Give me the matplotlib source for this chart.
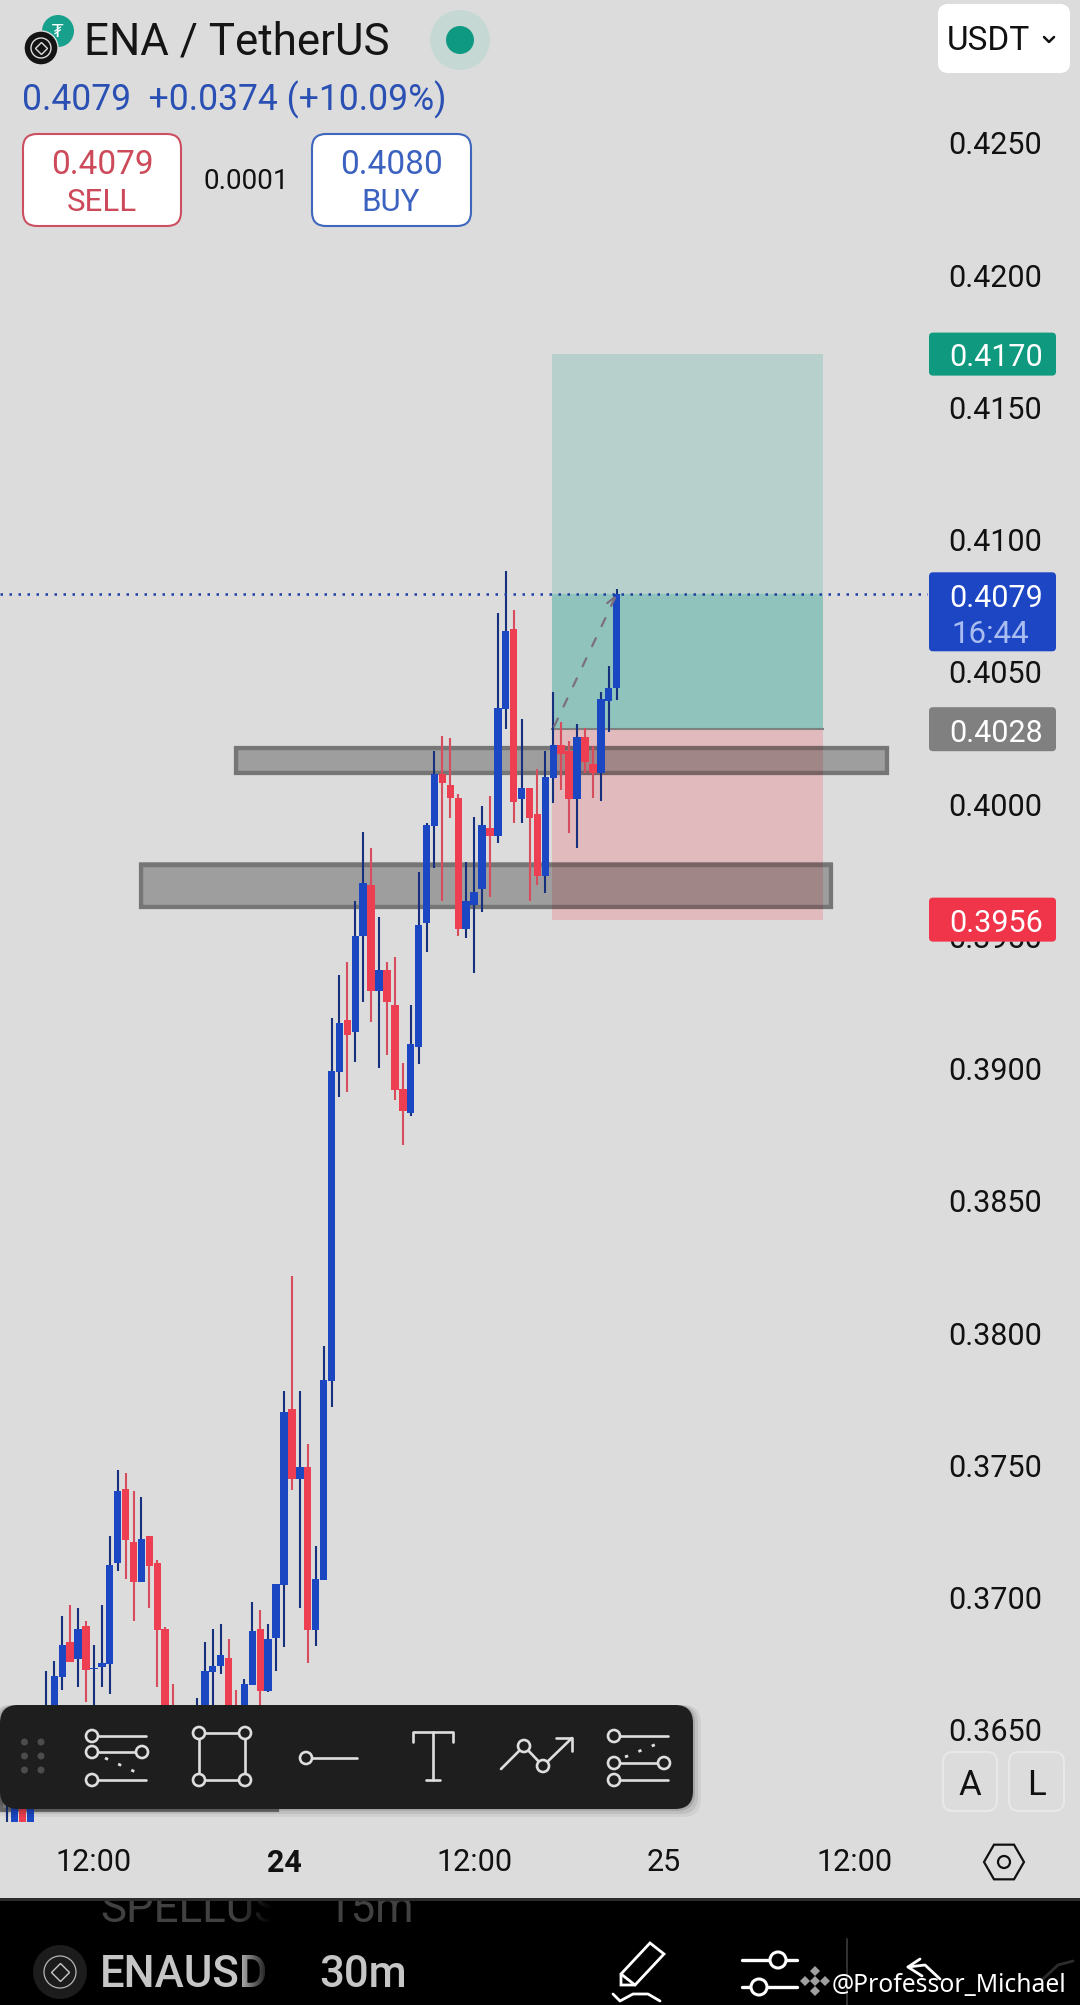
import numpy as np
import matplotlib
matplotlib.use('Agg')
import matplotlib.pyplot as plt
from matplotlib.patches import Rectangle, FancyBboxPatch, Circle, RegularPolygon, Polygon

plt.rcParams['font.family'] = ['Roboto', 'DejaVu Sans']

# 30m candles, bar 0 is the "24" tick
bars = np.arange(-35, 43)
opens = [.3625, .3612, .3632, .3612, .3635, .3635, .3640, .36698, .36828, .36765, .36891, .36726, .36733,
         .36746, .37126, .37407, .37206, .37057, .37231, .37128, .36878, .3650, .3640, .3640, .3640, .3640,
         .36717, .36737, .36768, .3650, .3645, .36666, .36878, .36645, .36844, .37046, .3771, .37445, .37489,
         .36876, .37065, .37817, .38985, .3918, .39136, .39497, .39691, .39289, .3937, .39237, .3892, .38829,
         .39078, .39549, .39914, .40109, .40068, .4002, .39523, .39614, .39675, .39908, .39876, .40358, .40658,
         .40015, .40057, .39958, .39725, .40096, .40219, .40198, .40015, .40249, .40147, .40116, .40387, .40437]
highs = [.3640, .3638, .3640, .3642, .3645, .36718, .36758, .36929, .36969, .36958, .36907, .36818, .36969,
         .37231, .37479, .37468, .37399, .37378, .37231, .37139, .36887, .3667, .3650, .3650, .36617, .3683,
         .36878, .36897, .3684, .36649, .36689, .36981, .36951, .36897, .37048, .37779, .38211, .37779, .37578,
         .37191, .37949, .39187, .39352, .39399, .39632, .3989, .3983, .3957, .39399, .39419, .39018, .39237,
         .39739, .39927, .40198, .40254, .40248, .40036, .39778, .39948, .3999, .40028, .40718, .40878, .4073,
         .40317, .40057, .40128, .40198, .40421, .40309, .40235, .40299, .40286, .40217, .40421, .40519, .40809]
lows = [.3610, .3610, .3610, .3610, .3630, .3630, .3635, .36647, .36752, .3666, .36601, .3640, .3666,
        .36632, .37099, .37067, .3691, .37057, .36958, .3666, .3640, .3635, .3630, .3630, .3630, .3635,
        .3645, .36708, .3640, .3640, .3640, .36666, .3640, .36639, .36721, .36811, .37405, .36958, .3675,
        .36815, .37065, .37718, .3889, .38909, .39021, .39247, .39172, .38999, .39049, .38879, .38709, .38819,
        .39014, .39438, .39757, .39631, .39946, .39498, .39492, .3936, .39589, .39647, .39851, .40282, .39927,
        .39927, .39631, .3969, .3966, .4000, .4005, .39886, .3983, .40116, .40019, .40009, .4027, .40391]
closes = [.3632, .3630, .3612, .3635, .3640, .3645, .36699, .36818, .36752, .36878, .36724, .36729, .36748,
          .3712, .37399, .37215, .37057, .37218, .37118, .36876, .3645, .3640, .3635, .3635, .3650, .36718,
          .36737, .3678, .3645, .3645, .3667, .36872, .36645, .3684, .37048, .377, .37445, .37489, .36876,
          .37067, .37821, .38987, .39169, .39124, .39497, .39698, .39289, .3937, .39247, .38917, .38838, .3909,
          .3954, .39917, .40109, .40075, .40018, .39523, .39631, .39666, .39917, .39876, .40359, .40651, .40005,
          .40057, .39946, .39725, .40098, .40219, .40185, .40015, .40249, .40156, .40113, .40396, .40437, .4079]

price_ticks = [.4250, .4200, .4150, .4100, .4050, .4000, .3950, .3900, .3850, .3800, .3750, .3700, .3650]
time_ticks = [-24, 0, 24, 48, 72]
time_labels = ['12:00', '24', '12:00', '25', '12:00']

last_price = .4079
target_price = .4170
entry_price = .4028
stop_price = .3956

# gray boxes drawn on the chart: low, high, first bar, last bar
zone_low = [.40107, .39600, .36186]
zone_high = [.40215, .39776, .3640]
zone_start = [-6.3, -18.3, -36]
zone_end = [76.4, 69.3, -0.6]
position_start = 33.85
position_end = 68.05

BG = '#dcdcdc'
BLUE = '#1c47c2'
RED = '#ee3f52'
BLUE_WICK = '#16307e'
RED_WICK = '#d84d5e'
ICON = '#dedede'
BAR = '#1e1e1e'

fig = plt.figure(figsize=(10.8, 20.06), dpi=100, facecolor=BG)
ax = fig.add_axes([0, (2006 - 1823) / 2006, 928 / 1080, 1823 / 2006], facecolor=BG)
ax.set_xlim(-284 / 7.92, (928 - 284) / 7.92)
ax.set_ylim(.4250 - 1680 / 26450, .4250 + 143 / 26450)
for s in ax.spines.values():
    s.set_visible(False)

# position tool
ax.add_patch(Rectangle((position_start, last_price), position_end - position_start, target_price - last_price,
                       fc='#089981', alpha=.17, lw=0, zorder=1))
ax.add_patch(Rectangle((position_start, entry_price), position_end - position_start, last_price - entry_price,
                       fc='#089981', alpha=.36, lw=0, zorder=1))
ax.add_patch(Rectangle((position_start, stop_price), position_end - position_start, entry_price - stop_price,
                       fc='#f23645', alpha=.2, lw=0, zorder=1))
ax.plot([position_start, position_end], [entry_price, entry_price], color='#808080', lw=1.5, zorder=1.5)

for lo, hi, x0, x1 in zip(zone_low, zone_high, zone_start, zone_end):
    ax.add_patch(Rectangle((x0, lo), x1 - x0, hi - lo, fc='black', alpha=.28, lw=0, zorder=2))
    ax.add_patch(Rectangle((x0 + .28, lo + .00008), x1 - x0 - .56, hi - lo - .00016, fc='none',
                           ec=(0, 0, 0, .25), lw=3.2, zorder=2))

# candles
for b, o, h, l, c in zip(bars, opens, highs, lows, closes):
    up = c >= o
    ax.vlines(b, l, h, color=BLUE_WICK if up else RED_WICK, lw=1.5, zorder=3)
    ax.bar(b, max(abs(c - o), .00005), bottom=min(o, c), width=.94, color=BLUE if up else RED, lw=0, zorder=4)

ax.axhline(last_price, color='#1f3fa0', lw=1.8, ls=(0, (1, 2.6)), zorder=5)
ax.annotate('', xy=(bars[-1], last_price), xytext=(34.1, .4029), zorder=6,
            arrowprops=dict(arrowstyle='->', ls=(0, (4, 6)), color='#7d6f80', lw=1.6, shrinkA=0, shrinkB=0,
                            mutation_scale=17))

ax.yaxis.tick_right()
ax.set_yticks(price_ticks)
ax.set_yticklabels(['%.4f' % p for p in price_ticks])
ax.tick_params(axis='y', length=0, pad=82, labelsize=22, labelcolor='#111111')
plt.setp(ax.get_yticklabels(), ha='right')
ax.set_xticks(time_ticks)
ax.set_xticklabels(time_labels)
ax.tick_params(axis='x', length=0, pad=18, labelsize=22, labelcolor='#111111')
ax.get_xticklabels()[1].set_fontweight('bold')

# everything else of the app, in pixels
ui = fig.add_axes([0, 0, 1, 1], zorder=10)
ui.set_xlim(0, 1080)
ui.set_ylim(2006, 0)
ui.axis('off')


def price_y(p):
    return 2006 - ax.transData.transform((0, p))[1]


def box(x0, y0, x1, y1, fc, ec='none', lw=0, r=8, z=2, alpha=None):
    ui.add_patch(FancyBboxPatch((x0 + r, y0 + r), x1 - x0 - 2 * r, y1 - y0 - 2 * r,
                                boxstyle='round,pad=%f,rounding_size=%f' % (r, r),
                                fc=fc, ec=ec, lw=lw, zorder=z, alpha=alpha))


def line(xs, ys, color=ICON, lw=1.9, z=5, **kw):
    ui.plot(xs, ys, color=color, lw=lw, zorder=z, solid_capstyle='round', **kw)


def ring(x, y, r=6, ec=ICON, fc=BAR, lw=1.9, z=6):
    ui.add_patch(Circle((x, y), r, fc=fc, ec=ec, lw=lw, zorder=z))


# header
ui.add_patch(Circle((58, 32), 16, fc='#17a08c', zorder=2))
ui.text(58, 32, '₮', color='white', fontsize=13, ha='center', va='center', zorder=3, family=['DejaVu Sans'])
ui.add_patch(Circle((41, 49), 17, fc='#141414', ec=BG, lw=1, zorder=4))
ui.add_patch(Circle((41, 49), 10, fc='none', ec='#dddddd', lw=1, zorder=5))
ui.plot([41], [49], marker='D', ms=6, mfc='none', mec='#dddddd', mew=1, zorder=5)
ui.text(84, 54, 'ENA / TetherUS', fontsize=31.6, color='#151515', ha='left', va='baseline')
ui.add_patch(Circle((460, 41), 30, fc='#c5d8d4', lw=0))
ui.add_patch(Circle((460, 41), 14, fc='#0e9a82', lw=0))
ui.text(22, 110, '0.4079  +0.0374 (+10.09%)', fontsize=25.6, color='#2a50b4', ha='left', va='baseline')

box(23, 135, 181, 227, 'white', '#cc5060', 1.5, r=14)
ui.text(102, 174, '0.4079', fontsize=24, color='#cc4a5a', ha='center', va='baseline')
ui.text(102, 211, 'SELL', fontsize=22.5, color='#cc4a5a', ha='center', va='baseline')
ui.text(246, 189, '0.0001', fontsize=20, color='#111111', ha='center', va='baseline')
box(312, 135, 471, 227, 'white', '#3f66bd', 1.5, r=14)
ui.text(391, 174, '0.4080', fontsize=24, color='#3c62c0', ha='center', va='baseline')
ui.text(391, 211, 'BUY', fontsize=22.5, color='#3c62c0', ha='center', va='baseline')

box(938, 5, 1070, 74, 'white', r=10)
ui.text(947, 50, 'USDT', fontsize=24, color='#111111', ha='left', va='baseline')
line([1044, 1049, 1054], [38, 43, 38], color='#111111', lw=1.8)

# price tags
box(929, price_y(target_price) - 21, 1056, price_y(target_price) + 22, '#0f9a80', r=4)
ui.text(1043, price_y(target_price), '%.4f' % target_price, fontsize=22, color='white', ha='right', va='center_baseline')
box(929, price_y(entry_price) - 22, 1056, price_y(entry_price) + 22, '#808080', r=4)
ui.text(1043, price_y(entry_price), '%.4f' % entry_price, fontsize=22, color='white', ha='right', va='center_baseline')
box(929, price_y(stop_price) - 22, 1056, price_y(stop_price) + 22, '#f0344a', r=4)
ui.text(1043, price_y(stop_price), '%.4f' % stop_price, fontsize=22, color='white', ha='right', va='center_baseline')
box(929, price_y(last_price) - 22, 1056, price_y(last_price) + 57, '#1c46c4', r=4)
ui.text(1043, price_y(last_price), '%.4f' % last_price, fontsize=22, color='white', ha='right', va='center_baseline')
ui.text(951, price_y(last_price) + 36, '16:44', fontsize=22.5, color='#a9bdf0', ha='left', va='center_baseline')

# A / L buttons and gear
box(943, 1753, 997, 1812, BG, '#e8e8e8', 1.5, r=10)
box(1009, 1753, 1064, 1812, BG, '#e8e8e8', 1.5, r=10)
ui.text(970, 1795, 'A', fontsize=25, color='#111111', ha='center', va='baseline')
ui.text(1036, 1795, 'L', fontsize=25, color='#111111', ha='center', va='baseline')
ui.add_patch(RegularPolygon((1004, 1863), 6, radius=20, orientation=np.pi / 2, fc='none', ec='#111111', lw=1.6))
ui.add_patch(Circle((1004, 1863), 6, fc='none', ec='#111111', lw=1.6))

# drawing toolbar
for grow, a in zip([8, 5, 2], [.05, .08, .12]):
    box(-grow, 1706, 693 + grow, 1810 + grow, 'black', r=18, z=3, alpha=a)
box(0, 1706, 693, 1810, BAR, r=18, z=4)
for gx in [24.5, 41]:
    for gy in [1743, 1757, 1771]:
        ui.add_patch(Circle((gx, gy), 3.5, fc='#4c4c4c', zorder=5))

line([98, 146], [1737, 1737])
line([92, 142], [1753, 1753])
line([98, 146], [1781, 1781])
ui.plot([105, 142], [1759, 1776], color=ICON, lw=2, ls=(0, (1.2, 4)), zorder=5)
for x, y in [(92, 1737), (92, 1753), (142, 1753), (92, 1781)]:
    ring(x, y)

line([199, 245, 245, 199, 199], [1734, 1734, 1781, 1781, 1734])
for x, y in [(199, 1734), (245, 1734), (199, 1781), (245, 1781)]:
    ring(x, y)

line([306, 357], [1759, 1759])
ring(306, 1759)

line([413, 413, 453, 453], [1743, 1733, 1733, 1743])
line([433, 433], [1733, 1781])
line([426, 440], [1781, 1781])

line([501, 524, 543, 572], [1770, 1747, 1767, 1739])
line([556, 572, 572], [1739, 1739, 1752])
ring(524, 1747)
ring(543, 1767)

line([620, 668], [1737, 1737])
line([614, 664], [1764, 1764])
line([620, 668], [1781, 1781])
ui.plot([625, 664], [1758, 1742], color=ICON, lw=2, ls=(0, (1.2, 4)), zorder=5)
for x, y in [(614, 1737), (614, 1764), (664, 1764), (614, 1781)]:
    ring(x, y)

# bottom bar
ui.add_patch(Rectangle((0, 1899), 1080, 107, fc='black', lw=0, zorder=2))
ui.text(100, 1922, 'SPELLUS', fontsize=31.5, color='#414141', ha='left', va='baseline', zorder=3)
ui.text(326, 1922, '15m', fontsize=31.5, color='#414141', ha='left', va='baseline', zorder=3)
ui.add_patch(Rectangle((0, 1882), 1080, 17, fc=BG, lw=0, zorder=4))
ui.add_patch(Rectangle((0, 1899), 1080, 3, fc='#2c2c2c', lw=0, zorder=4))
ui.add_patch(Circle((60, 1973), 27, fc='#1c1c1c', lw=0, zorder=3))
ui.add_patch(Circle((60, 1973), 16, fc='none', ec='#b5b5b5', lw=.9, zorder=4))
ui.plot([60], [1973], marker='D', ms=9, mfc='none', mec='#c8c8c8', mew=1, zorder=4)
ui.text(100, 1987, 'ENAUSD', fontsize=31.5, color='#c6c6c6', fontweight='medium', ha='left', va='baseline', zorder=3)
ui.text(319, 1987, '30m', fontsize=31.5, color='#c6c6c6', fontweight='medium', ha='left', va='baseline', zorder=3)
fade = np.zeros((1, 64, 4))
fade[0, :, 3] = np.linspace(0, 1, 64)
ui.imshow(fade, extent=(236, 272, 2006, 1902), aspect='auto', zorder=3.5, interpolation='bilinear')
ui.add_patch(Rectangle((272, 1902), 40, 104, fc='black', lw=0, zorder=3.5))
ui.set_xlim(0, 1080)
ui.set_ylim(2006, 0)

ui.add_patch(Polygon([(621, 1975), (650, 1944), (664, 1955), (635, 1986), (621, 1986)], closed=True, fc='none',
                     ec='white', lw=2, zorder=5))
line([621, 635], [1975, 1986], color='white', lw=2)
line([613, 620, 633, 648, 660], [1995, 2002, 1995, 1995, 2002], color='white', lw=2)
line([742, 797], [1961, 1961], color='white', lw=2.4)
line([742, 797], [1988, 1988], color='white', lw=2.4)
ring(778, 1961, r=8, ec='white', fc='black', lw=2.2)
ring(759, 1988, r=8, ec='white', fc='black', lw=2.2)
line([847, 847], [1940, 2006], color='#333333', lw=1.4)
line([920, 908, 922], [1960, 1968, 1977], color='white', lw=2)
line([908, 925, 940], [1968, 1966, 1980], color='white', lw=2)
line([1043, 1058, 1073], [1980, 1966, 1962], color='#2c2c2c', lw=2)

for dx, dy in [(0, -10), (0, 10), (-10, 0), (10, 0), (0, 0)]:
    ui.plot([815 + dx], [1982 + dy], marker='D', ms=5.5, color='#a0a0a0', mew=0, zorder=6)
ui.text(832, 1992, '@Professor_Michael', fontsize=17.8, color='white', ha='left', va='baseline', zorder=7,
        family=['Noto Sans'])

fig.savefig('out.png', dpi=100, facecolor=BG)
